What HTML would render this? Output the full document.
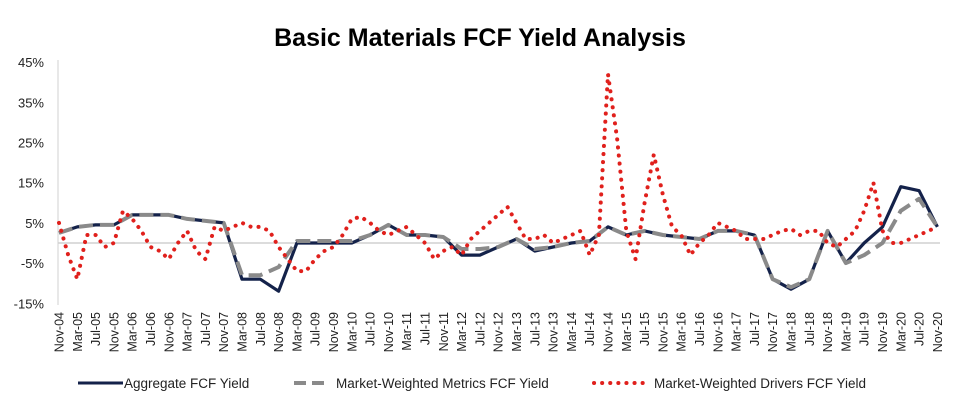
<!DOCTYPE html>
<html><head><meta charset="utf-8">
<style>
html,body{margin:0;padding:0;background:#fff;}
svg{display:block;font-family:"Liberation Sans",Arial,sans-serif;}
</style></head>
<body>
<svg id="chart" width="959" height="408" viewBox="0 0 959 408" xmlns="http://www.w3.org/2000/svg">
<text x="480" y="46" text-anchor="middle" font-size="25" font-weight="bold" fill="#000">Basic Materials FCF Yield Analysis</text>
<g id="yaxis"></g>
<g id="xaxis"></g>
<g id="series"></g>
<g>
 <g>
  <line x1="78" y1="383" x2="123" y2="383" stroke="#14224a" stroke-width="3"/>
  <text x="124" y="388" font-size="13.5" fill="#222">Aggregate FCF Yield</text>
 </g>
 <g>
  <line x1="294" y1="383" x2="330" y2="383" stroke="#8a8a8a" stroke-width="4" stroke-dasharray="12,6"/>
  <text x="336" y="388" font-size="13.5" fill="#222">Market-Weighted Metrics FCF Yield</text>
 </g>
 <g>
  <line x1="594" y1="383" x2="648" y2="383" stroke="#e0201c" stroke-width="4" stroke-dasharray="0.1,8" stroke-linecap="round"/>
  <text x="654" y="388" font-size="13.5" fill="#222">Market-Weighted Drivers FCF Yield</text>
 </g>
</g>
</svg>
<script>
const xLabels = (function(){const m=["Nov","Mar","Jul"];const out=[];for(let i=0;i<49;i++){const mo=m[i%3];const yr=4+Math.floor((i+2)/3);out.push(mo+"-"+String(yr).padStart(2,"0"));}return out;})();
const yTicks = [45,35,25,15,5,-5,-15];
const aggregate = [2.5,4,4.5,4.5,7,7,7,6,5.5,5,-9,-9,-12,0,0,0,0,2,4.5,2,2,1.5,-3,-3,-1,1,-2,-1,0,0.5,4,2,3,2,1.5,1,3,3,2,-9,-11.5,-9,3,-5,0,4,14,13,4];
const metrics = [2.5,4,4.5,4.5,7,7,7,6,5.5,5,-8,-8,-6,0.5,0.5,0.5,0.5,2,4.5,2,2,1.5,-1.5,-1.5,-1,1,-1.5,-1,0,0.5,4,2,3,2,1.5,1,3,3,2,-9,-11,-9,3,-5,-3,0,8,11,4];
const drivers = [5,-3,-9,2,2,-1,0,8,6,3,-1,-2,-4,0,3,-2,-4,4,3,4,5,4,4,3,-1,-4,-7,-7,-4,-2,-1,2,6,6.5,5,3,2,3,4,2,0,-4,-2,-1,-3,1,3,5,7,9,5,1,1,2,0,1,2,3,-3,2,42,26,3,-4,10,22,12,4,2,-3,0,2,5,4,3,1,1,1,2,3,3.5,2,3,3,0,-1,1,3,8,15,3,0,0,1,2,3,4];

const NS="http://www.w3.org/2000/svg";
const X0=59, DX=18.3, Y0=243, PPU=4.02;
const xs=i=>X0+i*DX;
const ys=v=>Y0-v*PPU;
function mk(tag,attrs,parent){const e=document.createElementNS(NS,tag);for(const k in attrs)e.setAttribute(k,attrs[k]);parent.appendChild(e);return e;}
const yg=document.getElementById('yaxis'), xg=document.getElementById('xaxis'), sg=document.getElementById('series');
mk('line',{x1:58,y1:60,x2:58,y2:305,stroke:'#d0d0d0','stroke-width':1},yg);
yTicks.forEach(v=>{
  const t=mk('text',{x:44,y:ys(v)+5,'text-anchor':'end','font-size':'13',fill:'#222'},yg);
  
  
  t.textContent=v+'%';
});
const zl=mk('line',{x1:58,y1:ys(0),x2:940,y2:ys(0),stroke:'#d0d0d0','stroke-width':1.5},xg);


xLabels.forEach((l,i)=>{
  const x=xs(i)+4.5;
  const t=mk('text',{x:x,y:312,'text-anchor':'end','font-size':'12.5',fill:'#222',transform:'rotate(-90 '+x+' 312)'},xg);
  
  
  t.textContent=l;
});
function pts(arr,step){return arr.map((v,i)=>xs(i*step).toFixed(1)+','+ys(v).toFixed(1)).join(' ');}
const p1=mk('polyline',{points:pts(aggregate,1),fill:'none',stroke:'#14224a','stroke-width':3.2,'stroke-linejoin':'round'},sg);


const p2=mk('polyline',{points:pts(metrics,1),fill:'none',stroke:'#8a8a8a','stroke-width':4,'stroke-dasharray':'14,7','stroke-linejoin':'round'},sg);


const p3=mk('polyline',{points:pts(drivers,0.5),fill:'none',stroke:'#e0201c','stroke-width':4,'stroke-dasharray':'0.1,8','stroke-linecap':'round','stroke-linejoin':'round'},sg);


</script>
</body></html>
